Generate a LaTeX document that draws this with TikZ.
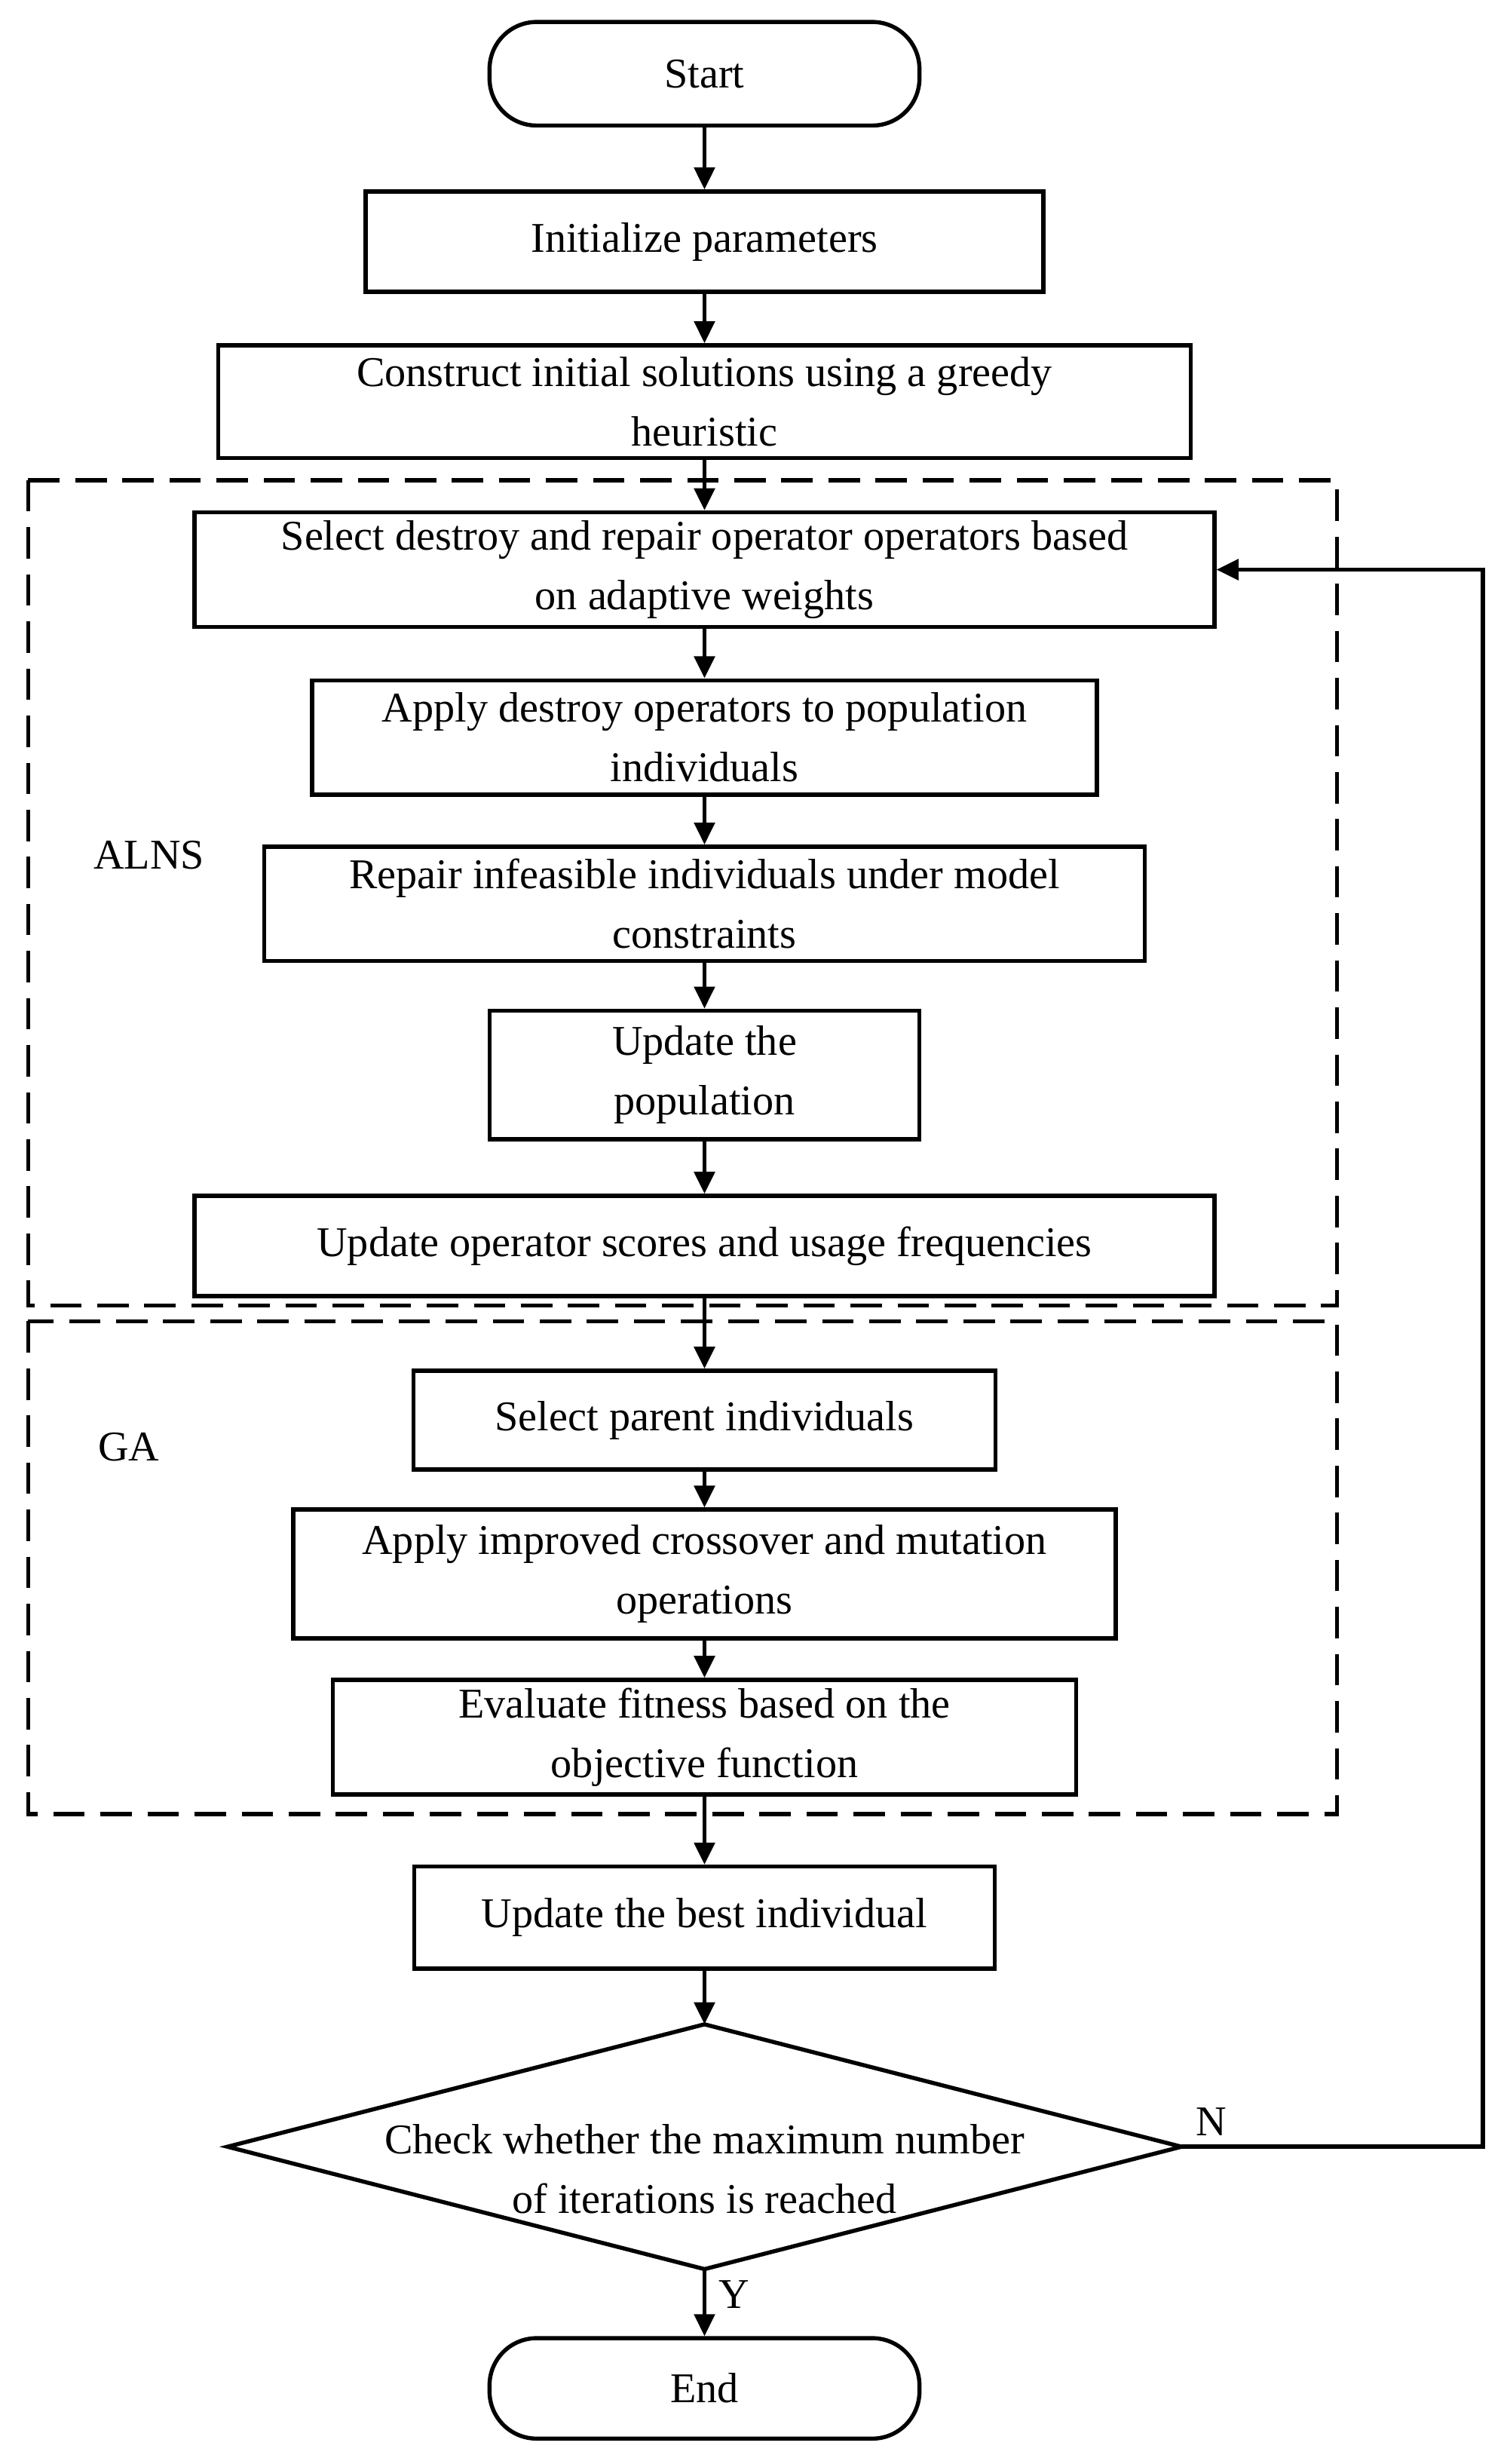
\documentclass[tikz,border=0pt]{standalone}
\usepackage{fontspec}
\setmainfont{Liberation Serif}
\usetikzlibrary{arrows.meta}
\begin{document}
\begin{tikzpicture}[x=1pt,y=-1pt,
  box/.style={draw,line width=2.6pt,inner sep=0pt,align=center,font=\fontsize{27}{38}\selectfont},
  term/.style={box,rounded corners=30pt},
  arr/.style={line width=2.6pt,-{Triangle[length=14pt,width=13pt]}},
  dsh/.style={line width=2.6pt,dash pattern=on 20pt off 10pt},
  lbl/.style={font=\fontsize{27}{38}\selectfont,inner sep=0pt}]
\useasboundingbox (0,0) rectangle (960,1570.2);
\draw[dsh] (18,306) rectangle (852,832);
\draw[dsh] (18,842) rectangle (852,1156);
\node[lbl] at (95,545) {ALNS};
\node[lbl] at (82,922) {GA};
\node[term,minimum width=274pt,minimum height=66pt] (s) at (449,47) {Start};
\node[box,minimum width=432pt,minimum height=64pt] (b1) at (449,154) {Initialize parameters};
\node[box,minimum width=620pt,minimum height=72pt] (b2) at (449,256) {Construct initial solutions using a greedy\\heuristic};
\node[box,minimum width=650pt,minimum height=73pt] (b3) at (449,363) {Select destroy and repair operator operators based\\on adaptive weights};
\node[box,minimum width=500pt,minimum height=73pt] (b4) at (449,470) {Apply destroy operators to population\\individuals};
\node[box,minimum width=561pt,minimum height=73pt] (b5) at (449,576) {Repair infeasible individuals under model\\constraints};
\node[box,minimum width=274pt,minimum height=82pt] (b6) at (449,685) {Update the\\population};
\node[box,minimum width=650pt,minimum height=64pt] (b7) at (449,794) {Update operator scores and usage frequencies};
\node[box,minimum width=371pt,minimum height=63pt] (b8) at (449,905) {Select parent individuals};
\node[box,minimum width=524pt,minimum height=82pt] (b9) at (449,1003) {Apply improved crossover and mutation\\operations};
\node[box,minimum width=474pt,minimum height=73pt] (b10) at (449,1107) {Evaluate fitness based on the\\objective function};
\node[box,minimum width=370pt,minimum height=65pt] (b11) at (449,1222) {Update the best individual};
\coordinate (dt) at (449,1290); \coordinate (dr) at (753,1368);
\coordinate (db) at (449,1446); \coordinate (dl) at (145,1368);
\draw[line width=2.6pt,line join=miter] (dt)--(dr)--(db)--(dl)--cycle;
\node[lbl,align=center] (d) at (449,1382) {Check whether the maximum number\\of iterations is reached};
\node[term,minimum width=274pt,minimum height=64pt] (e) at (449,1522) {End};
\draw[arr] (s)--(b1); \draw[arr] (b1)--(b2); \draw[arr] (b2)--(b3);
\draw[arr] (b3)--(b4); \draw[arr] (b4)--(b5); \draw[arr] (b5)--(b6);
\draw[arr] (b6)--(b7); \draw[arr] (b7)--(b8); \draw[arr] (b8)--(b9);
\draw[arr] (b9)--(b10); \draw[arr] (b10)--(b11); \draw[arr] (b11)--(dt);
\draw[arr] (db)--(e);
\coordinate (c1) at (945,1368); \coordinate (c2) at (945,363);
\draw[arr] (dr)--(c1)--(c2)--(b3.east);
\node[lbl] at (772,1352) {N};
\node[lbl] at (468,1462) {Y};
\end{tikzpicture}
\end{document}
